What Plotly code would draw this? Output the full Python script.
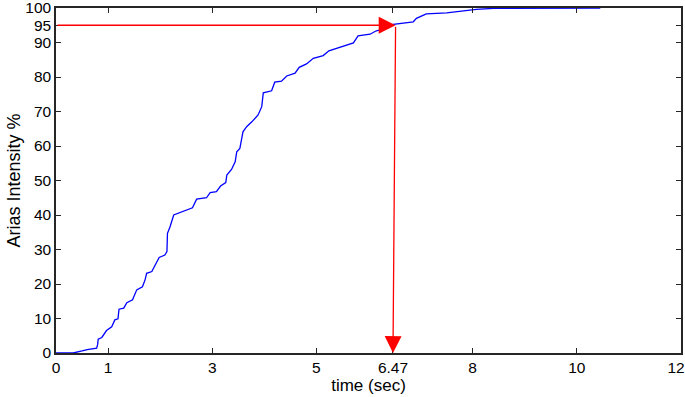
import plotly.graph_objects as go

time_sec = [0, 0.33, 0.5, 0.6, 0.78, 0.80, 0.81, 0.88, 0.97, 1.07, 1.13, 1.19, 1.21, 1.30, 1.36,
            1.47, 1.55, 1.66, 1.71, 1.74, 1.84, 1.92, 1.98, 2.09, 2.13, 2.14, 2.19, 2.26, 2.44,
            2.62, 2.70, 2.89, 2.96, 3.08, 3.16, 3.26, 3.28, 3.37, 3.44, 3.47, 3.53, 3.56, 3.59,
            3.66, 3.76, 3.88, 3.95, 3.98, 4.14, 4.20, 4.33, 4.43, 4.59, 4.67, 4.81, 4.94, 5.13,
            5.24, 5.51, 5.71, 5.80, 6.03, 6.15, 6.38, 6.44, 6.57, 6.86, 6.92, 7.11, 7.50, 7.88,
            8.07, 8.4, 9.1, 10.45]
arias_pct = [0, 0, 0.6, 1.0, 1.4, 2.5, 4.0, 4.5, 6.5, 7.6, 9.6, 9.9, 12.7, 13.0, 14.6,
             15.4, 18.3, 19.2, 21.2, 23.1, 23.6, 26, 27.7, 28.4, 29.4, 34.7, 36.6, 40, 41,
             42.1, 44.6, 45, 46.5, 46.8, 48.4, 49.4, 51.6, 53.2, 55.4, 58.3, 59.3, 61.7, 64.1,
             65.6, 67, 69, 71.4, 75.4, 76, 78.5, 78.8, 80.3, 81.1, 82.8, 83.8, 85.4, 86.2,
             87.6, 88.8, 89.9, 91.9, 92.4, 93.4, 94.2, 95.2, 95.5, 96, 97, 98.3, 98.6, 99.2,
             99.6, 99.9, 100, 100]

x_ticks = [0, 1, 3, 5, 6.47, 8, 10, 12]
x_tick_labels = ["0", "1", "3", "5", "6.47", "8", "10", "12"]
y_ticks = [0, 10, 20, 30, 40, 50, 60, 70, 80, 90, 95, 100]
y_tick_labels = [str(v) for v in y_ticks]

t95 = 6.47
level95 = 95

font_family = "Liberation Sans, Arial, sans-serif"
axis_col = "#262626"

fig = go.Figure()
fig.add_trace(go.Scatter(x=time_sec, y=arias_pct, mode="lines",
                         line=dict(color="#0000ff", width=1.3), showlegend=False))

fig.add_annotation(x=t95 + 0.05, y=level95, ax=0, ay=level95, xref="x", yref="y",
                   axref="x", ayref="y", showarrow=True, arrowhead=2, arrowsize=2.6,
                   arrowwidth=1.3, arrowcolor="#ff0000", standoff=0, text="")
fig.add_annotation(x=t95, y=0, ax=t95 + 0.05, ay=level95, xref="x", yref="y",
                   axref="x", ayref="y", showarrow=True, arrowhead=2, arrowsize=2.6,
                   arrowwidth=1.3, arrowcolor="#ff0000", standoff=0, text="")

fig.update_layout(
    width=685, height=397,
    margin=dict(l=56, r=4, t=8, b=44, autoexpand=False),
    paper_bgcolor="white", plot_bgcolor="white",
    font=dict(family=font_family, size=16, color="black"),
)
fig.update_xaxes(range=[0, 12], tickvals=x_ticks[:-1], ticktext=x_tick_labels[:-1],
                 showline=True, linecolor=axis_col, linewidth=1.5, mirror="ticks",
                 ticks="inside", ticklen=5, tickcolor=axis_col, tickwidth=1,
                 showgrid=False, zeroline=False, automargin=False,
                 ticklabeloverflow="allow",
                 title=dict(text="time (sec)", font=dict(size=17), standoff=0),
                 tickfont=dict(size=15.5))
# last tick label (12) nudged left so it stays inside the canvas, as in the reference
fig.update_layout(xaxis2=dict(overlaying="x", side="bottom", anchor="y", range=[0, 12],
                              tickvals=x_ticks, ticktext=[""] * (len(x_ticks) - 1) + x_tick_labels[-1:],
                              ticklabelshift=-5, ticks="inside", ticklen=5, tickwidth=1,
                              tickcolor=axis_col, showline=True, linecolor=axis_col,
                              linewidth=1.5, showgrid=False,
                              zeroline=False, automargin=False, ticklabeloverflow="allow",
                              tickfont=dict(size=15.5)))
fig.update_yaxes(range=[0, 100], tickvals=y_ticks, ticktext=y_tick_labels,
                 showline=True, linecolor=axis_col, linewidth=1.5, mirror="ticks",
                 ticks="inside", ticklen=5, tickcolor=axis_col, tickwidth=1,
                 showgrid=False, zeroline=False, automargin=False,
                 ticklabeloverflow="allow",
                 title=dict(text="Arias Intensity %", font=dict(size=18), standoff=0),
                 tickfont=dict(size=15.5))
fig.add_trace(go.Scatter(x=[], y=[], xaxis="x2", yaxis="y", showlegend=False, hoverinfo="skip"))

fig.write_html("out.html", config={"displayModeBar": False},
               post_script="document.body.style.margin='0';document.body.style.overflow='hidden';")
